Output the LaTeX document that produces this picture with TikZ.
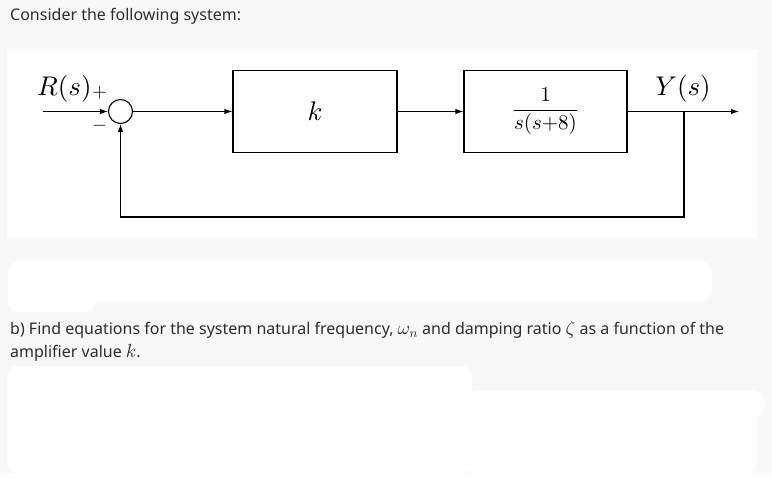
\documentclass[tikz,border=0pt]{standalone}
\DeclareFontShape{OML}{cmm}{m}{it}{<-13>cmmi7 <13->cmmi10}{}
\DeclareFontShape{OT1}{cmr}{m}{n}{<-13>cmr7 <13->cmr10}{}
\DeclareFontShape{OMS}{cmsy}{m}{n}{<-13>cmsy7 <13->cmsy10}{}
\usepackage[no-math]{fontspec}
\setmainfont{Noto Sans}
\usetikzlibrary{arrows.meta}
\definecolor{panelgray}{RGB}{248,248,248}
\definecolor{txt}{RGB}{45,45,45}
\newcommand{\bodymath}[1]{{\fontsize{19}{19}\selectfont$#1$}}
\tikzset{
  blk/.style={draw=black, line width=1.1pt, minimum height=82pt, inner sep=0pt, font=\fontsize{27}{30}\selectfont},
  sumnode/.style={circle, draw=black, line width=1.1pt, minimum size=24pt, inner sep=0pt},
  arr/.style={line width=1.1pt, -{Latex[length=8pt,width=5.5pt]}},
  lbl/.style={inner sep=0pt, font=\fontsize{27}{30}\selectfont},
  sgn/.style={inner sep=0pt, font=\fontsize{19}{22}\selectfont},
  para/.style={anchor=base west, inner sep=0pt, text=txt, font=\fontsize{16}{19}\selectfont},
  blob/.style={fill=white, draw=none}
}
\begin{document}
\begin{tikzpicture}[x=1pt,y=-1pt]
\useasboundingbox (0,0) rectangle (772,502);
% page background
\fill[white] (0,0) rectangle (772,502);
\fill[panelgray] (0,0) rectangle (772,473);
% diagram panel
\fill[white] (7,49) rectangle (757,238);
% redaction blobs
\fill[blob, rounded corners=14pt] (8,260) rectangle (712,302);
\fill[blob, rounded corners=10pt] (8,280) rectangle (95,312);
\fill[blob, rounded corners=10pt] (7,366) rectangle (472,473);
\fill[blob, rounded corners=12pt] (466,390) rectangle (765,417);
\fill[blob, rounded corners=10pt] (466,412) rectangle (757,473);
% texts
\node[para] (title) at (10,21) {Consider the following system:};
\node[para] (q1) at (10,335) {b) Find equations for the system natural frequency, \bodymath{\omega_n} and damping ratio \bodymath{\zeta} as a function of the};
\node[para] (q2) at (10,358) {amplifier value \bodymath{k}.};
% block diagram
\node[sumnode] (sum) at (120.5,111.5) {};
\node[blk, minimum width=164pt] (b1) at (315,111.5) {$k$};
\node[blk, minimum width=163pt, font=\fontsize{21}{24}\selectfont] (b2) at (545.5,111.5) {$\displaystyle\frac{1}{s(s{+}8)}$};
\coordinate (in) at (43,111.5);
\coordinate (br) at (684,111.5);
\coordinate (out) at (739,111.5);
\coordinate (fb) at (684,217);
\node[lbl, anchor=base west] (R) at (37,96) {$R(s)$};
\node[sgn] (plus) at (99.5,93) {$+$};
\node[sgn] (minus) at (99.5,126) {$-$};
\node[lbl, anchor=base] (Y) at (683,96) {$Y(s)$};
\draw[arr] (in) -- (sum.west);
\draw[arr] (sum.east) -- (b1.west);
\draw[arr] (b1.east) -- (b2.west);
\draw[arr] (b2.east) -- (out);
\draw[arr] (br) -- (fb) -| (sum.south);
\end{tikzpicture}
\end{document}
